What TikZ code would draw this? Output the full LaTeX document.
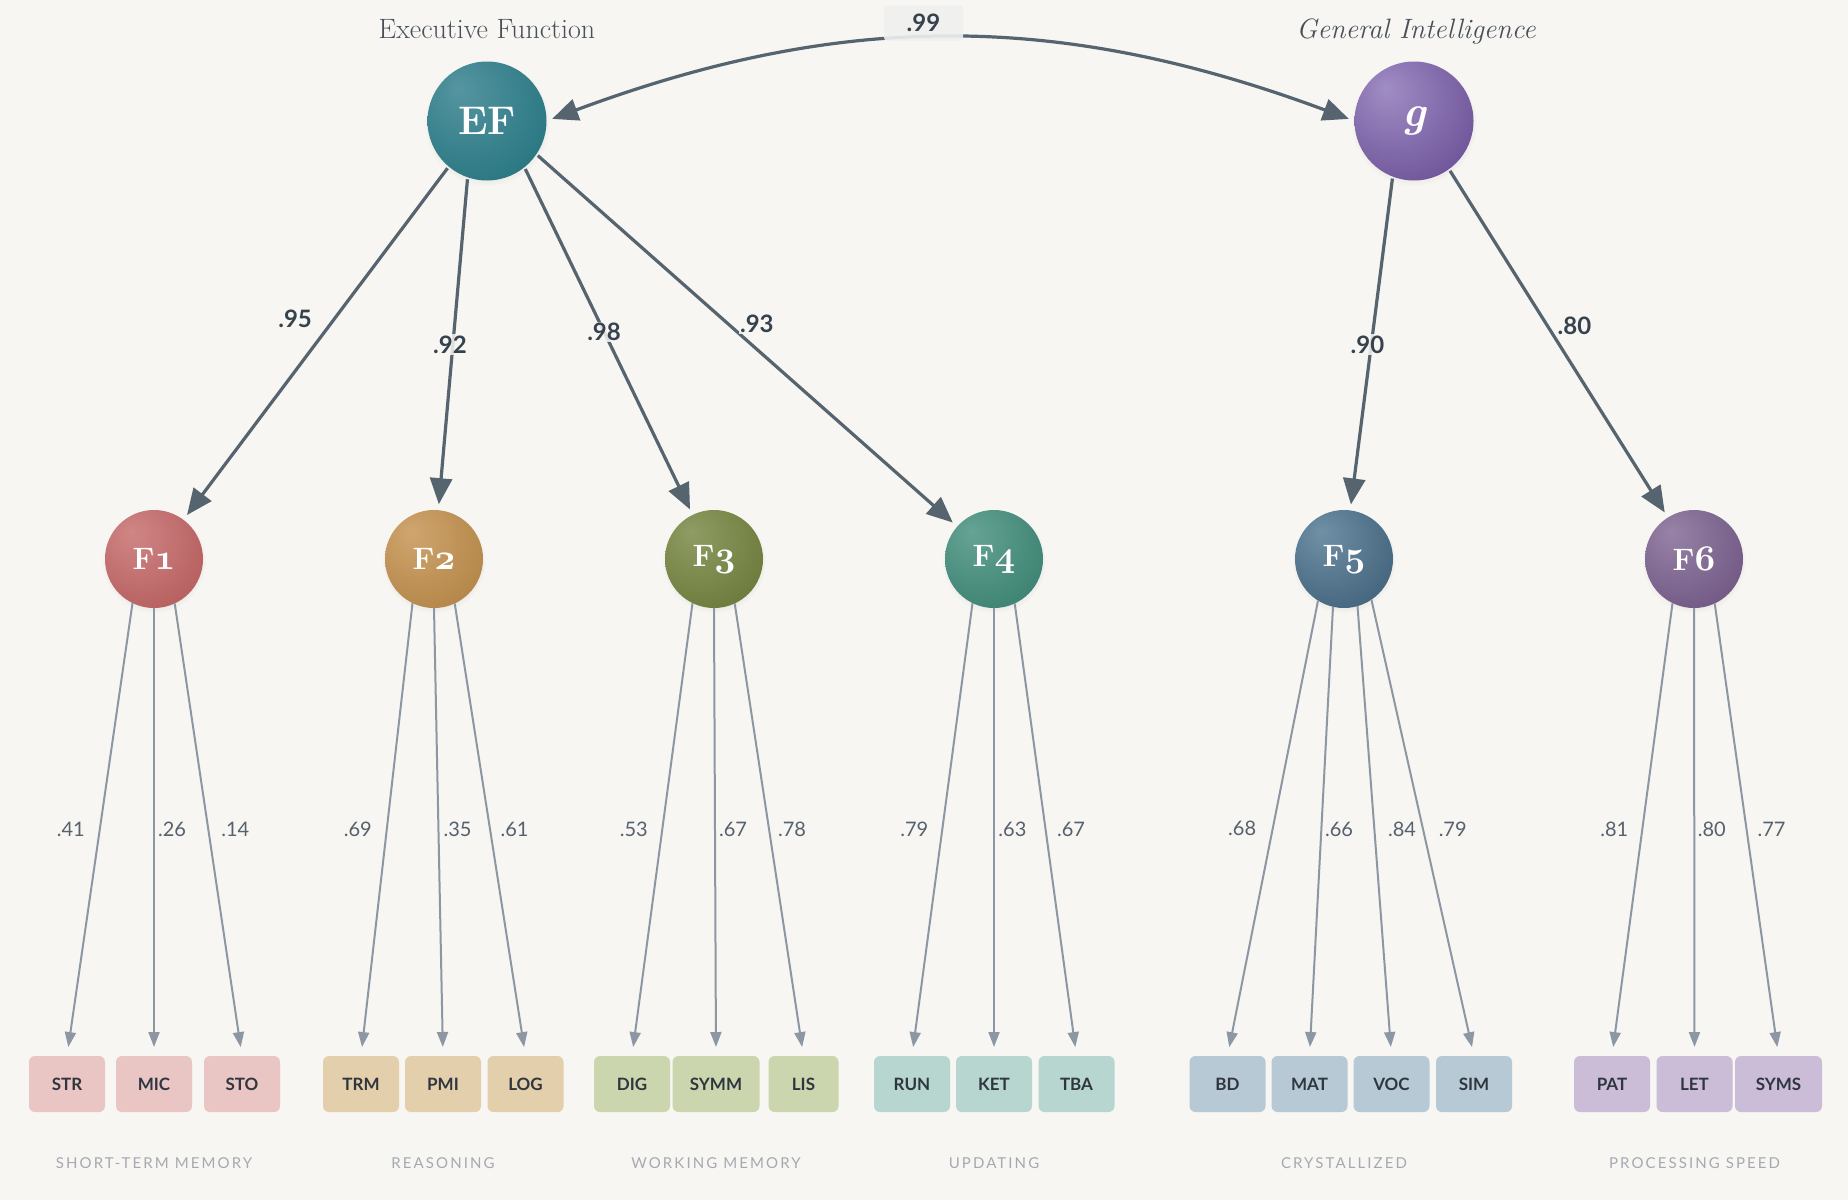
\RequirePackage{fix-cm}
\documentclass[tikz,border=0pt]{standalone}
\usepackage{fontspec}
\usetikzlibrary{arrows.meta,positioning,shadows}

\newfontfamily\uifont{Lato}
\newfontfamily\capsfont[LetterSpace=14]{Lato}
\newcommand\osnum[1]{{\fontencoding{OML}\fontfamily{cmm}\fontseries{b}\fontshape{it}\fontsize{36}{36}\selectfont #1}}

\definecolor{paper}{HTML}{F7F6F2}
\definecolor{slate}{HTML}{56646F}
\definecolor{steel}{HTML}{8C97A3}
\definecolor{ink}{HTML}{36424D}
\definecolor{muted}{HTML}{56616D}
\definecolor{faint}{HTML}{A6A9B1}
\definecolor{headc}{HTML}{4A5059}
\definecolor{boxtext}{HTML}{2F3640}
\definecolor{patch}{HTML}{F0F0EE}
% sphere colours: highlight / base
\definecolor{efhi}{HTML}{5595A1}\definecolor{efbase}{HTML}{2B7883}
\definecolor{ghi}{HTML}{A18DC5}\definecolor{gbase}{HTML}{71589C}
\definecolor{fonehi}{HTML}{D08686}\definecolor{fonebase}{HTML}{B86161}
\definecolor{ftwohi}{HTML}{D0A66F}\definecolor{ftwobase}{HTML}{B5874A}
\definecolor{fthreehi}{HTML}{8F9C64}\definecolor{fthreebase}{HTML}{6E7D3E}
\definecolor{ffourhi}{HTML}{66A495}\definecolor{ffourbase}{HTML}{3F8474}
\definecolor{ffivehi}{HTML}{7090A6}\definecolor{ffivebase}{HTML}{46677F}
\definecolor{fsixhi}{HTML}{9883A7}\definecolor{fsixbase}{HTML}{735B86}
% indicator fills
\definecolor{stmfill}{HTML}{E9C5C4}
\definecolor{reafill}{HTML}{E3CFAB}
\definecolor{wmfill}{HTML}{CBD6AF}
\definecolor{updfill}{HTML}{B6D6CF}
\definecolor{cryfill}{HTML}{B6C9D5}
\definecolor{psfill}{HTML}{CBBDD7}

\colorlet{orblight}{white}
\colorlet{orbbase}{gray}
\pgfdeclareradialshading[orblight,orbbase]{orb}{\pgfpoint{-12bp}{14bp}}{%
  color(0bp)=(orblight); color(34bp)=(orbbase); color(72bp)=(orbbase)}

\begin{document}
\begin{tikzpicture}[
  x=1pt, y=1pt,
  orbcol/.style 2 args={/utils/exec={\colorlet{orblight}{#1}\colorlet{orbbase}{#2}}},
  latent/.style={circle, minimum size=119pt, inner sep=0pt, outer sep=0pt,
    shading=orb, text=white,
    circular drop shadow={shadow xshift=0pt, shadow yshift=-2pt,
      shadow scale=1.06, opacity=.12},
    font=\fontsize{40}{40}\selectfont\bfseries},
  factor/.style={latent, minimum size=98pt,
    font=\fontsize{31}{31}\selectfont\bfseries},
  indicator/.style={rounded corners=6pt, minimum width=76pt, minimum height=56pt,
    inner sep=0pt, outer sep=0pt, text=boxtext,
    font=\uifont\bfseries\fontsize{17}{17}\selectfont},
  struct/.style={-{Triangle[length=26pt,width=22pt]}, draw=slate,
    line width=3.2pt, shorten <=2pt, shorten >=6pt},
  corr/.style={struct, {Triangle[length=26pt,width=22pt]}-{Triangle[length=26pt,width=22pt]},
    shorten <=6pt},
  loading/.style={-{Triangle[length=15pt,width=11pt]}, draw=steel,
    line width=2pt, shorten >=9pt},
  toplab/.style={midway, font=\uifont\bfseries\fontsize{24}{24}\selectfont, text=ink,
    fill=paper, fill opacity=.85, text opacity=1, inner sep=1.5pt},
  ldlab/.style={midway, font=\uifont\fontsize{20}{20}\selectfont, text=muted},
  grouplab/.style={anchor=base, font=\capsfont\fontsize{15}{15}\selectfont, text=faint},
  heading/.style={anchor=base, text=headc, font=\fontsize{28}{28}\selectfont}
]
\fill[paper] (0,0) rectangle (1848,-1200);
\useasboundingbox (0,0) rectangle (1848,-1200);

% second-order factors
\node[latent, orbcol={efhi}{efbase}] (EF) at (487,-121) {EF};
\node[latent, orbcol={ghi}{gbase}, font=\fontsize{44}{44}\selectfont\bfseries\itshape] (g) at (1414,-121) {g};
\node[heading] (efhead) at (487,-38) {Executive Function};
\node[heading, font=\fontsize{28}{28}\selectfont\itshape] (ghead) at (1416,-38) {General Intelligence};

% first-order factors
\node[factor, orbcol={fonehi}{fonebase}] (F1) at (154,-559) {F\osnum{1}};
\node[factor, orbcol={ftwohi}{ftwobase}] (F2) at (434,-559) {F\osnum{2}};
\node[factor, orbcol={fthreehi}{fthreebase}] (F3) at (714,-559) {F\osnum{3}};
\node[factor, orbcol={ffourhi}{ffourbase}] (F4) at (994,-559) {F\osnum{4}};
\node[factor, orbcol={ffivehi}{ffivebase}] (F5) at (1344,-559) {F\osnum{5}};
\node[factor, orbcol={fsixhi}{fsixbase}] (F6) at (1694,-559) {F\osnum{6}};

% indicators
\node[indicator, fill=stmfill] (STR) at (67,-1084) {STR};
\node[indicator, fill=stmfill] (MIC) at (154,-1084) {MIC};
\node[indicator, fill=stmfill] (STO) at (242,-1084) {STO};
\node[indicator, fill=reafill] (TRM) at (361,-1084) {TRM};
\node[indicator, fill=reafill] (PMI) at (443,-1084) {PMI};
\node[indicator, fill=reafill] (LOG) at (525.5,-1084) {LOG};
\node[indicator, fill=wmfill] (DIG) at (632,-1084) {DIG};
\node[indicator, fill=wmfill, minimum width=87pt] (SYMM) at (716,-1084) {SYMM};
\node[indicator, fill=wmfill, minimum width=70pt] (LIS) at (803.5,-1084) {LIS};
\node[indicator, fill=updfill] (RUN) at (912,-1084) {RUN};
\node[indicator, fill=updfill] (KET) at (994,-1084) {KET};
\node[indicator, fill=updfill] (TBA) at (1076.5,-1084) {TBA};
\node[indicator, fill=cryfill] (BD) at (1227.5,-1084) {BD};
\node[indicator, fill=cryfill] (MAT) at (1309.5,-1084) {MAT};
\node[indicator, fill=cryfill] (VOC) at (1391.5,-1084) {VOC};
\node[indicator, fill=cryfill] (SIM) at (1474,-1084) {SIM};
\node[indicator, fill=psfill] (PAT) at (1612,-1084) {PAT};
\node[indicator, fill=psfill] (LET) at (1694.5,-1084) {LET};
\node[indicator, fill=psfill, minimum width=87pt] (SYMS) at (1778.5,-1084) {SYMS};

% domain captions
\node[grouplab] (stm) at (154,-1168) {SHORT-TERM MEMORY};
\node[grouplab] (rea) at (443,-1168) {REASONING};
\node[grouplab] (wm) at (716,-1168) {WORKING MEMORY};
\node[grouplab] (upd) at (994,-1168) {UPDATING};
\node[grouplab] (cry) at (1344,-1168) {CRYSTALLIZED};
\node[grouplab] (ps) at (1694.5,-1168) {PROCESSING SPEED};

% structural paths
\draw[corr] (EF.east) to[bend left=20.4]
  node[midway, xshift=-27pt, yshift=15.5pt, font=\uifont\bfseries\fontsize{24}{24}\selectfont,
    text=ink, fill=patch, fill opacity=.9, text opacity=1, rounded corners=3pt,
    minimum width=79pt, minimum height=35pt] {.99} (g.west);
\draw[struct] (EF.230) -- (F1) node[toplab, xshift=-21pt, yshift=24pt] {.95};
\draw[struct] (EF.251.3) -- (F2) node[toplab, xshift=-3pt, yshift=-1pt] {.92};
\draw[struct] (EF.309) -- (F3) node[toplab, xshift=-4.5pt, yshift=9pt] {.98};
\draw[struct] (EF.326.5) -- (F4) node[toplab, xshift=10pt, yshift=17pt] {.93};
\draw[struct] (g.249.5) -- (F5) node[toplab, xshift=-4pt, yshift=-1pt] {.90};
\draw[struct] (g.306) -- (F6) node[toplab, xshift=16pt, yshift=18pt] {.80};

% loadings
\draw[loading] (F1.244.6) -- (STR.north) node[ldlab, xshift=-29pt] {.41};
\draw[loading] (F1.270) -- (MIC.north) node[ldlab, xshift=18pt, yshift=3pt] {.26};
\draw[loading] (F1.295.4) -- (STO.north) node[ldlab, xshift=27pt] {.14};
\draw[loading] (F2.244.6) -- (TRM.north) node[ldlab, xshift=-29pt] {.69};
\draw[loading] (F2.270) -- (PMI.north) node[ldlab, xshift=19pt, yshift=3pt] {.35};
\draw[loading] (F2.295.4) -- (LOG.north) node[ldlab, xshift=24.5pt] {.61};
\draw[loading] (F3.244.6) -- (DIG.north) node[ldlab, xshift=-28.5pt] {.53};
\draw[loading] (F3.270) -- (SYMM.north) node[ldlab, xshift=18pt, yshift=3pt] {.67};
\draw[loading] (F3.295.4) -- (LIS.north) node[ldlab, xshift=23pt] {.78};
\draw[loading] (F4.244.6) -- (RUN.north) node[ldlab, xshift=-28pt] {.79};
\draw[loading] (F4.270) -- (KET.north) node[ldlab, xshift=18.4pt, yshift=3pt] {.63};
\draw[loading] (F4.295.4) -- (TBA.north) node[ldlab, xshift=25.5pt] {.67};
\draw[loading] (F5.238.9) -- (BD.north) node[ldlab, xshift=-30.6pt] {.68};
\draw[loading] (F5.257.1) -- (MAT.north) node[ldlab, xshift=17.8pt, yshift=2pt] {.66};
\draw[loading] (F5.286.7) -- (VOC.north) node[ldlab, xshift=27.5pt, yshift=2pt] {.84};
\draw[loading] (F5.304) -- (SIM.north) node[ldlab, xshift=30pt, yshift=-2pt] {.79};
\draw[loading] (F6.244.6) -- (PAT.north) node[ldlab, xshift=-28pt] {.81};
\draw[loading] (F6.270) -- (LET.north) node[ldlab, xshift=17.6pt, yshift=3pt] {.80};
\draw[loading] (F6.295.4) -- (SYMS.north) node[ldlab, xshift=25pt] {.77};
\end{tikzpicture}
\end{document}
